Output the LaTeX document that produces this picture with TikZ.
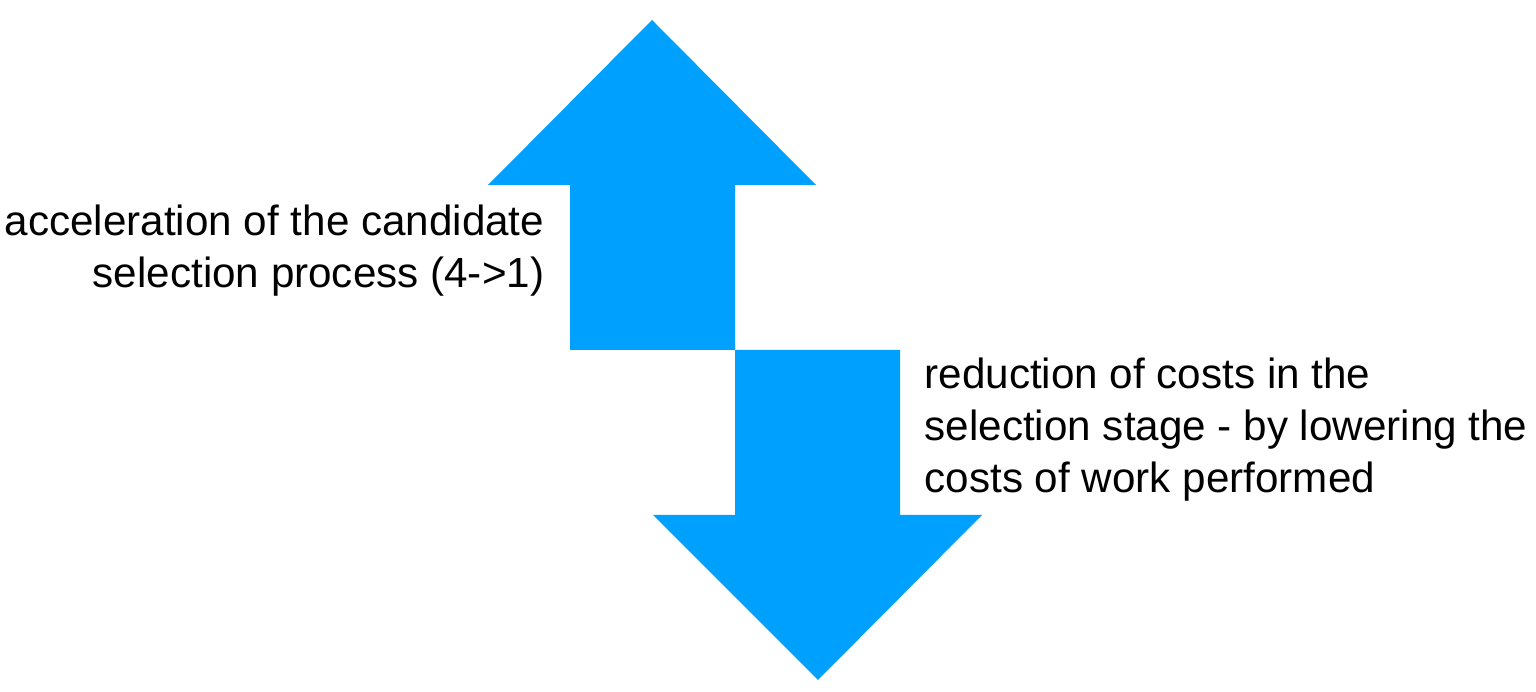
\documentclass[tikz,border=0pt]{standalone}
\usepackage{fontspec}
\setmainfont{Liberation Sans}
\definecolor{arrowblue}{RGB}{0,160,255}
\begin{document}
\begin{tikzpicture}[x=0.01cm,y=-0.01cm,
  txt/.style={font=\fontsize{12.0}{14.8}\selectfont,inner sep=0pt}]
\useasboundingbox (0,0) rectangle (1536,692);
\fill[arrowblue] (652,20) -- (816,185) -- (735,185) -- (735,350) -- (570,350) -- (570,185) -- (488,185) -- cycle;
\fill[arrowblue] (818,680) -- (982,515) -- (900,515) -- (900,350) -- (735,350) -- (735,515) -- (653,515) -- cycle;
\node[txt,align=right,anchor=north east] (l) at (545,204) {acceleration of the candidate\\selection process (4->1)};
\node[txt,align=left,anchor=north west] (r) at (924,357) {reduction of costs in the\\selection stage - by lowering the\\costs of work performed};
\end{tikzpicture}
\end{document}
